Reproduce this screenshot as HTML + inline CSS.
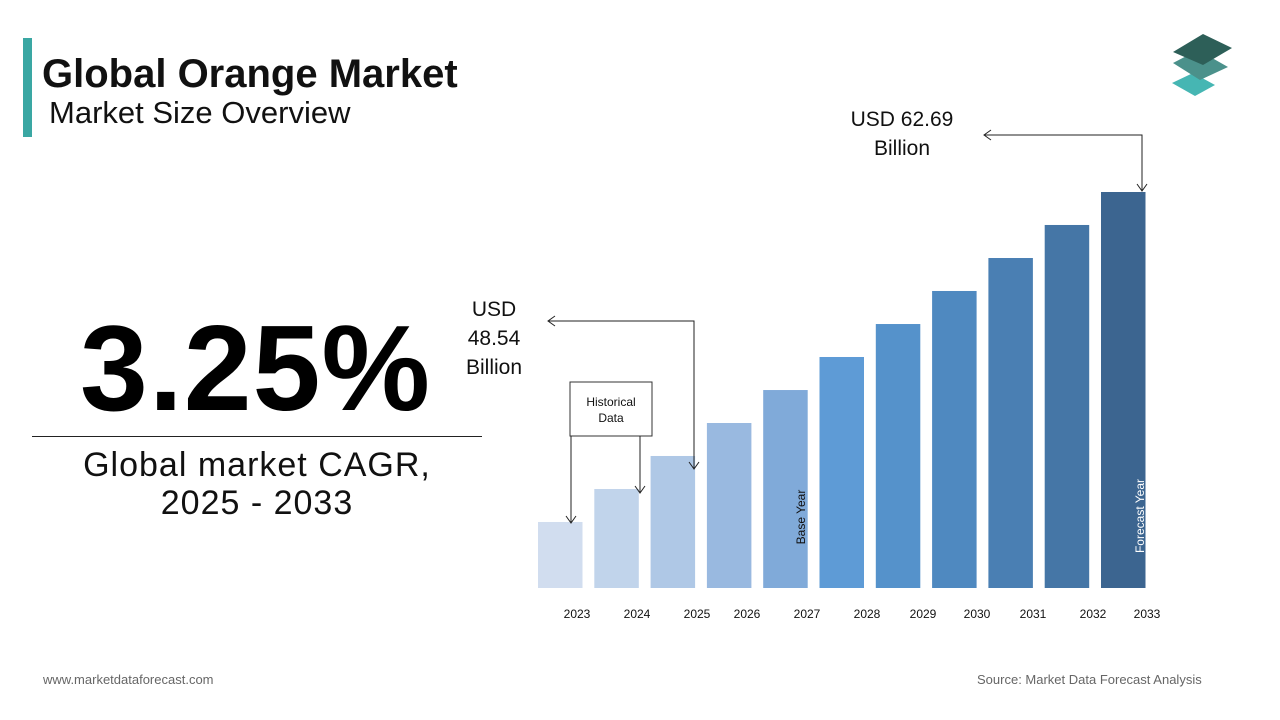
<!DOCTYPE html>
<html><head><meta charset="utf-8"><style>
body{margin:0;width:1280px;height:720px;background:#fff;font-family:"Liberation Sans",sans-serif;overflow:hidden;position:relative}
.a{position:absolute}
</style></head><body>
<div class="a" style="left:23px;top:38px;width:9px;height:99px;background:#3aa7a3"></div>
<div class="a" style="left:42px;top:52px;font-size:40px;font-weight:bold;color:#111">Global Orange Market</div>
<div class="a" style="left:49px;top:95px;font-size:31px;color:#111">Market Size Overview</div>
<div class="a" style="left:80px;top:298px;font-size:122px;font-weight:bold;color:#000;letter-spacing:1px">3.25%</div>
<div class="a" style="left:32px;top:436px;width:450px;height:1px;background:#222"></div>
<div class="a" style="left:32px;top:446px;width:450px;text-align:center;font-size:34px;letter-spacing:1px;line-height:38px;color:#111">Global market CAGR,<br>2025 - 2033</div>
<div class="a" style="left:43px;top:672px;font-size:13px;color:#666">www.marketdataforecast.com</div>
<div class="a" style="left:977px;top:672px;font-size:13px;color:#666">Source: Market Data Forecast Analysis</div>
<svg class="a" style="left:0;top:0" width="1280" height="720">
<g>
<polygon points="1172,83 1193,73 1215,85 1195,96" fill="#46b6b3"/>
<polygon points="1173,63 1198,50 1228,67 1200,80" fill="#4b918b"/>
<polygon points="1173,52 1203,34 1232,48 1203,65" fill="#2d5f58"/>
</g>
<g id="bars"></g>
<g id="labels" font-size="12" fill="#111"></g>
<g id="ann"></g>
</svg>
<script>
const years=["2023","2024","2025","2026","2027","2028","2029","2030","2031","2032","2033"];
const values=[10.45,15.67,20.90,26.12,31.34,36.57,41.79,47.02,52.24,57.47,62.69];
const colors=["#d1ddef","#c1d4eb","#afc8e6","#99b9e0","#80aad9","#5e9bd6","#5592cb","#4f89c0","#4a7fb3","#4576a6","#3c6590"];
const labelXs=["577","637","697","747","807","867","923","977","1033","1093","1147"];
const NS="http://www.w3.org/2000/svg";
const baseY=588, maxH=396, maxV=62.69;
function y(v){return baseY-v/maxV*maxH;}
function x(i){return 538+i*56.3;}
const bw=44.5;
const gb=document.getElementById('bars'),gl=document.getElementById('labels');
values.forEach((v,i)=>{
 const r=document.createElementNS(NS,'rect');
 r.setAttribute('x',x(i));r.setAttribute('y',y(v));r.setAttribute('width',bw);r.setAttribute('height',baseY-y(v));r.setAttribute('fill',colors[i]);
 
 
 gb.appendChild(r);
 const t=document.createElementNS(NS,'text');
 t.setAttribute('x',+labelXs[i]);t.setAttribute('y',618);t.setAttribute('text-anchor','middle');t.textContent=years[i];
 
 
 gl.appendChild(t);
});
const ga=document.getElementById('ann');
ga.innerHTML=`
<text x="805" y="517" font-size="12" fill="#111" transform="rotate(-90 805 517)" text-anchor="middle">Base Year</text>
<text x="1144" y="516" font-size="12" fill="#fff" transform="rotate(-90 1144 516)" text-anchor="middle">Forecast Year</text>
<rect x="570" y="382" width="82" height="54" fill="#fff" stroke="#333"/>
<text x="611" y="406" font-size="12" text-anchor="middle" fill="#111"><tspan x="611">Historical</tspan><tspan x="611" dy="16">Data</tspan></text>
<g stroke="#222" fill="none">
<path d="M571 436 V522 M566 516 L571 523 L576 516"/>
<path d="M640 436 V492 M635 486 L640 493 L645 486"/>
<path d="M548 321 H694 V468 M555 316 L548 321 L555 326 M689 462 L694 469 L699 462"/>
<path d="M984 135 H1142 V190 M991 130 L984 135 L991 140 M1137 184 L1142 191 L1147 184"/>
</g>
<text x="494" y="316" font-size="21" text-anchor="middle" fill="#111"><tspan x="494">USD</tspan><tspan x="494" dy="29">48.54</tspan><tspan x="494" dy="29">Billion</tspan></text>
<text x="902" y="126" font-size="21" text-anchor="middle" fill="#111"><tspan x="902">USD 62.69</tspan><tspan x="902" dy="29">Billion</tspan></text>`;
</script>
</body></html>
